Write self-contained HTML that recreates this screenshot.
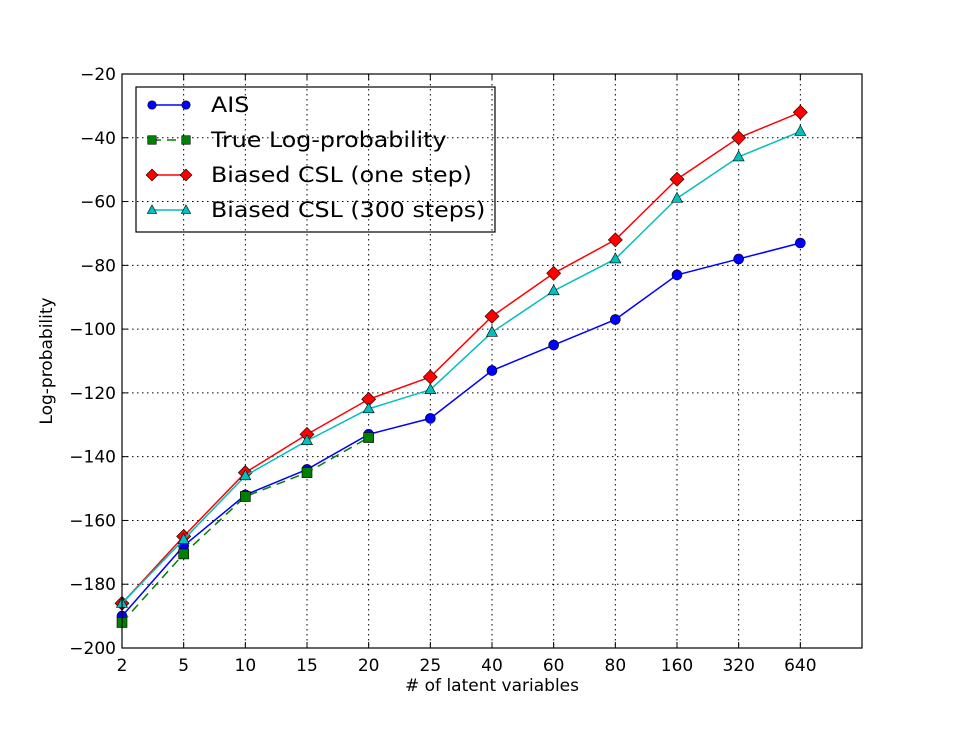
<!DOCTYPE html>
<html><head><meta charset="utf-8"><style>
body{margin:0;background:#fff;}
svg text{font-family:"DejaVu Sans","Liberation Sans",sans-serif;fill:#000;}
</style></head><body>
<svg id="chart" width="960" height="724" xmlns="http://www.w3.org/2000/svg">
<rect x="0" y="0" width="960" height="724" fill="#fff"/>
<g id="grid"></g>
<g id="series"></g>
<g id="axes"></g>
<g id="legend"></g>
</svg>
<script>
const categories = ["2","5","10","15","20","25","40","60","80","160","320","640"];
const aisValues = [-190,-168,-152,-144,-133,-128,-113,-105,-97,-83,-78,-73];
const trueValues = [-192,-170.5,-152.5,-145,-134];
const cslOneValues = [-186,-165,-145,-133,-122,-115,-96,-82.5,-72,-53,-40,-32];
const csl300Values = [-186,-166,-146,-135,-125,-119,-101,-88,-78,-59,-46,-38];
const yTicks = [-20,-40,-60,-80,-100,-120,-140,-160,-180,-200];

const NS="http://www.w3.org/2000/svg";
const L=122,R=862,T=74,B=648;
const xs=i=>L+i*(R-L)/12;
const ys=v=>T+(-20-v)*(B-T)/180;
function mk(tag,attrs,parent){const e=document.createElementNS(NS,tag);for(const k in attrs)e.setAttribute(k,attrs[k]);parent.appendChild(e);return e;}
const grid=document.getElementById('grid'),axes=document.getElementById('axes'),ser=document.getElementById('series'),leg=document.getElementById('legend');
categories.forEach((c,i)=>{
  const x=xs(i);
  const g=mk('line',{x1:x,x2:x,y1:T,y2:B,stroke:'#000','stroke-width':1,'stroke-dasharray':'1.5,3.5'},grid);
  
  
  const t=mk('text',{x:x,y:B+23,'text-anchor':'middle','font-size':17},axes);t.textContent=c;
  
  
  mk('line',{x1:x,x2:x,y1:B,y2:B-6,stroke:'#000'},axes);
  mk('line',{x1:x,x2:x,y1:T,y2:T+6,stroke:'#000'},axes);
});
yTicks.forEach(v=>{
  const y=ys(v);
  const g=mk('line',{x1:L,x2:R,y1:y,y2:y,stroke:'#000','stroke-width':1,'stroke-dasharray':'1.5,3.5'},grid);
  
  
  const t=mk('text',{x:L-6,y:y+6,'text-anchor':'end','font-size':17},axes);t.textContent='\u2212'+Math.abs(v);
  
  
  mk('line',{x1:L,x2:L+6,y1:y,y2:y,stroke:'#000'},axes);
  mk('line',{x1:R,x2:R-6,y1:y,y2:y,stroke:'#000'},axes);
});
const frame=mk('rect',{x:L,y:T,width:R-L,height:B-T,fill:'none',stroke:'#000','stroke-width':1.2},axes);


const xl=mk('text',{x:(L+R)/2,y:691,'text-anchor':'middle','font-size':17},axes);xl.textContent='# of latent variables';


const yl=mk('text',{x:0,y:0,'text-anchor':'middle','font-size':17,transform:'translate(52,'+(T+B)/2+') rotate(-90)'},axes);yl.textContent='Log-probability';



function marker(type,x,y,fill,parent,sc){
  sc=sc||1;
  if(type==='o')return mk('circle',{cx:x,cy:y,r:5*sc,fill:fill,stroke:'#000','stroke-width':0.6},parent);
  if(type==='s')return mk('rect',{x:x-5*sc,y:y-5*sc,width:10*sc,height:10*sc,fill:fill,stroke:'#000','stroke-width':0.6},parent);
  if(type==='D')return mk('polygon',{points:`${x},${y-7*sc} ${x+7*sc},${y} ${x},${y+7*sc} ${x-7*sc},${y}`,fill:fill,stroke:'#000','stroke-width':0.6},parent);
  return mk('polygon',{points:`${x},${y-6*sc} ${x+5.5*sc},${y+4*sc} ${x-5.5*sc},${y+4*sc}`,fill:fill,stroke:'#000','stroke-width':0.6},parent);
}
const seriesDefs=[
 {name:'AIS',vals:aisValues,color:'#0000ff',mfill:'#0000ff',m:'o',dash:null,key:'ais'},
 {name:'True Log-probability',vals:trueValues,color:'#008000',mfill:'#008000',m:'s',dash:'9,6',key:'true-log-probability'},
 {name:'Biased CSL (one step)',vals:cslOneValues,color:'#ff0000',mfill:'#ff0000',m:'D',dash:null,key:'biased-csl-one-step'},
 {name:'Biased CSL (300 steps)',vals:csl300Values,color:'#00bfbf',mfill:'#00bfbf',m:'^',dash:null,key:'biased-csl-300-steps'}
];
seriesDefs.forEach((s,si)=>{
  const g=mk('g',{},ser);
  
  
  const pts=s.vals.map((v,i)=>xs(i)+','+ys(v)).join(' ');
  const a={points:pts,fill:'none',stroke:s.color,'stroke-width':1.5};
  if(s.dash)a['stroke-dasharray']=s.dash;
  mk('polyline',a,g);
  s.vals.forEach((v,i)=>{
    const m=marker(s.m,xs(i),ys(v),s.mfill,g);
    
    
  });
  const ly=105+si*35;
  const le=mk('g',{},leg);
  
  
  const la={x1:152,x2:186,y1:ly,y2:ly,stroke:s.color,'stroke-width':1.5};
  if(s.dash)la['stroke-dasharray']=s.dash;
  mk('line',la,le);
  marker(s.m,152,ly,s.mfill,le,0.85);marker(s.m,186,ly,s.mfill,le,0.85);
  const t=mk('text',{x:211,y:ly+7,'font-size':21},le);t.textContent=s.name;
  const w=t.getComputedTextLength();
  t.setAttribute('textLength',(w*1.13).toFixed(1));
  t.setAttribute('lengthAdjust','spacingAndGlyphs');
});
const lb=mk('rect',{x:136,y:87,width:359,height:145,fill:'none',stroke:'#000','stroke-width':1.2},leg);


</script>
</body></html>
